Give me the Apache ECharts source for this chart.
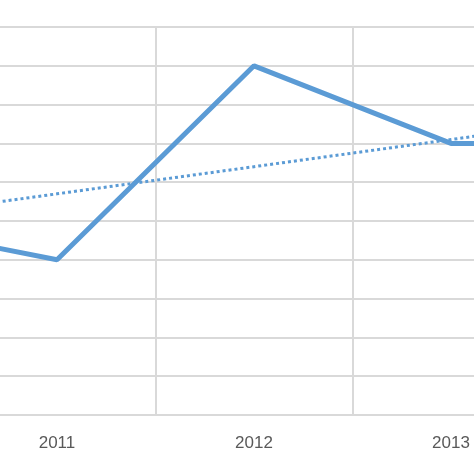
<!DOCTYPE html>
<html><head><meta charset="utf-8">
<script src="https://cdn.jsdelivr.net/npm/echarts@6/dist/echarts.min.js"></script>
<style>html,body{margin:0;padding:0;background:#fff}#c{width:474px;height:474px}</style>
</head><body><div id="c"></div>
<script>
const categories = ['2010','2011','2012','2013','2014'];
const values = [5.0, 4.0, 9.0, 7.0, 7.0];
const n = values.length;
const mx = (n - 1) / 2;
const my = values.reduce((a, b) => a + b, 0) / n;
let sxy = 0, sxx = 0;
values.forEach((v, i) => { sxy += (i - mx) * (v - my); sxx += (i - mx) * (i - mx); });
const slope = sxy / sxx;
const lineData = values.map((v, i) => [i, v]);
const trendData = values.map((v, i) => [i, my + slope * (i - mx)]);
const xMin = 0.7107, xMax = 3.1168;
const labelIdx = categories.map((c, i) => i).filter(i => i >= xMin && i <= xMax);
const boundIdx = categories.map((c, i) => i + 0.5).filter(v => v > xMin && v < xMax);
const chart = echarts.init(document.getElementById('c'));
chart.setOption({
  animation: false,
  grid: { left: 0, right: 0, top: 27, bottom: 59 },
  xAxis: [{
    type: 'value', min: xMin, max: xMax,
    axisLine: { lineStyle: { color: '#d9d9d9', width: 1.5 } },
    axisTick: { show: false, customValues: labelIdx },
    axisLabel: { customValues: labelIdx, formatter: v => categories[Math.round(v)], color: '#595959', fontSize: 17, margin: 20, fontFamily: 'Liberation Sans' },
    splitLine: { show: false }
  }, {
    type: 'value', min: xMin, max: xMax, position: 'bottom',
    axisLine: { show: false }, axisLabel: { show: false },
    axisTick: { show: false, customValues: boundIdx },
    splitLine: { show: true, lineStyle: { color: '#d9d9d9', width: 2 } }
  }],
  yAxis: {
    type: 'value', min: 0, max: 10, interval: 1,
    axisLabel: { show: false }, axisLine: { show: false }, axisTick: { show: false },
    splitLine: { lineStyle: { color: '#d9d9d9', width: 2 } }
  },
  series: [
    { type: 'line', data: lineData, symbol: 'none', clip: true, lineStyle: { color: '#5b9bd5', width: 5 } },
    { type: 'line', data: trendData, symbol: 'none', clip: true, lineStyle: { color: '#5b9bd5', width: 3, type: [3, 3] } }
  ]
});
</script></body></html>
